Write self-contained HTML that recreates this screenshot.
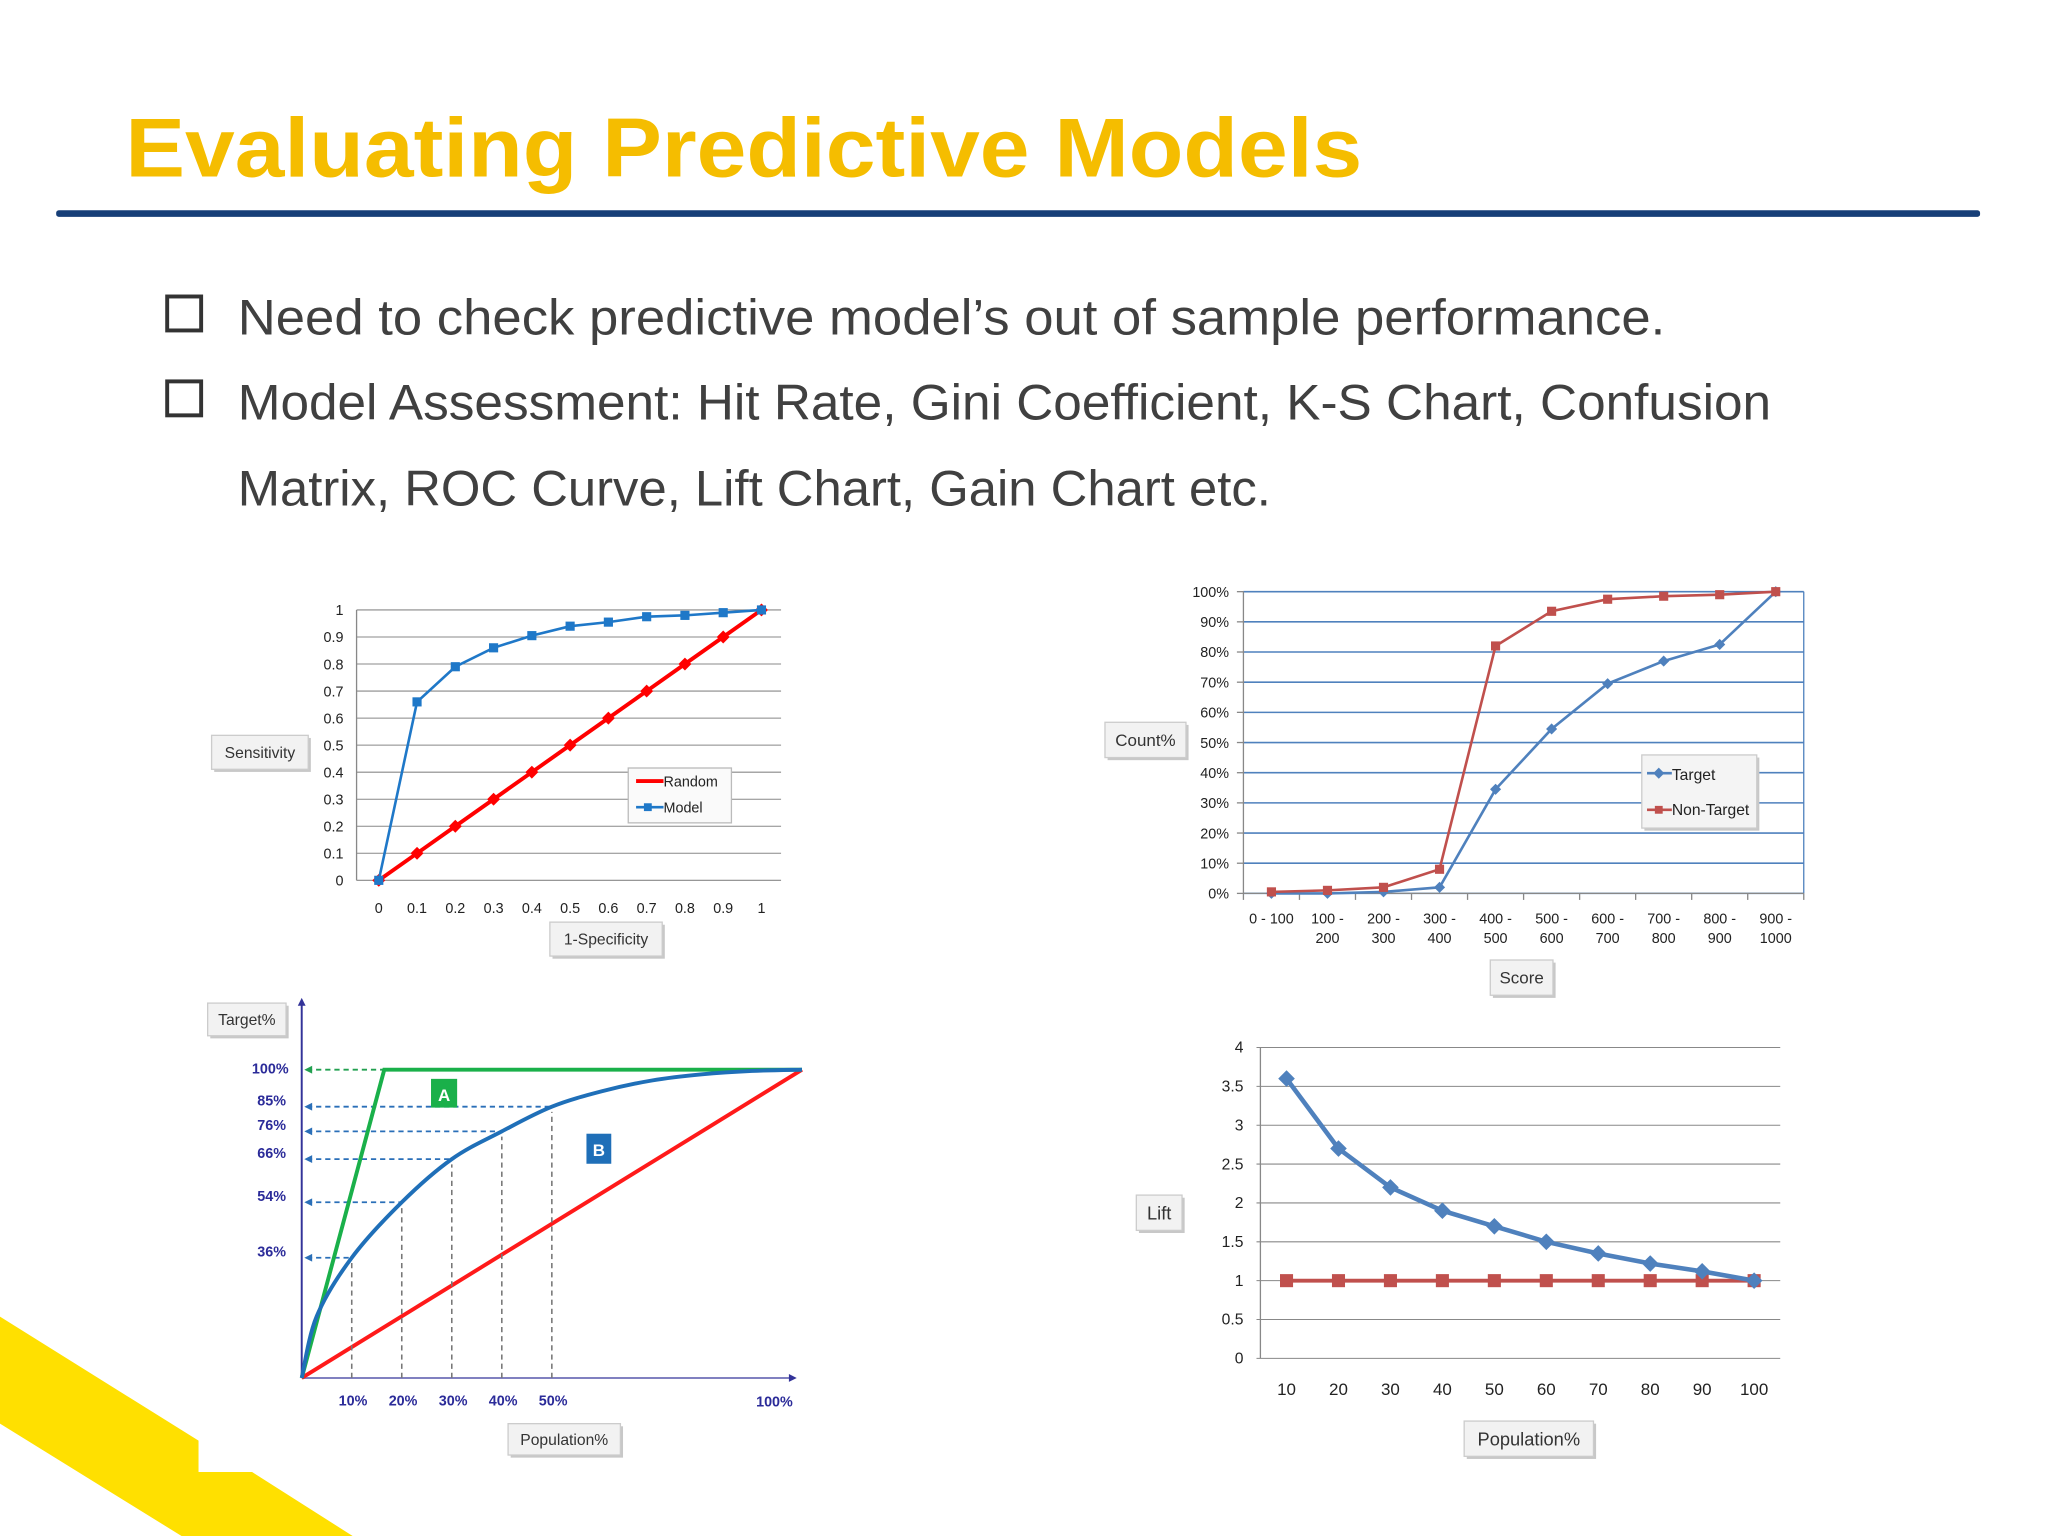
<!DOCTYPE html>
<html><head><meta charset="utf-8"><style>
html,body{margin:0;padding:0;background:#fff;}
svg{display:block;font-family:"Liberation Sans",sans-serif;}
</style></head><body>
<svg id="s" width="2048" height="1536" viewBox="0 0 1568 1176" xmlns="http://www.w3.org/2000/svg">
<rect width="1568" height="1176" fill="#fff"/>
<polygon points="0,1008 152,1103 152,1127 193,1127 270,1176 139,1176 0,1090" fill="#ffe000"/>
<text x="96" y="135" font-size="64" font-weight="bold" fill="#f5bd00" textLength="947" lengthAdjust="spacingAndGlyphs">Evaluating Predictive Models</text>
<rect x="43" y="161" width="1473" height="5" rx="2" fill="#173f78"/>
<g font-size="38" fill="#404040">
<rect x="128" y="227" width="26" height="26" fill="none" stroke="#333" stroke-width="3"/>
<text x="182" y="256" textLength="1093" lengthAdjust="spacingAndGlyphs">Need to check predictive model’s out of sample performance.</text>
<rect x="128" y="292" width="26" height="26" fill="none" stroke="#333" stroke-width="3"/>
<text x="182" y="321" textLength="1174" lengthAdjust="spacingAndGlyphs">Model Assessment: Hit Rate, Gini Coefficient, K-S Chart, Confusion</text>
<text x="182" y="387" textLength="791" lengthAdjust="spacingAndGlyphs">Matrix, ROC Curve, Lift Chart, Gain Chart etc.</text>
</g>
<g id="roc"></g>
<g id="ks"></g>
<g id="gain"></g>
<g id="lift"></g>
</svg>
<script>
// ROC data
const rocX=[0,0.1,0.2,0.3,0.4,0.5,0.6,0.7,0.8,0.9,1];
const rocModel=[0,0.66,0.79,0.86,0.905,0.94,0.955,0.975,0.98,0.99,1];
const rocRandom=[0,0.1,0.2,0.3,0.4,0.5,0.6,0.7,0.8,0.9,1];
const rocTicks=["0","0.1","0.2","0.3","0.4","0.5","0.6","0.7","0.8","0.9","1"];
// KS data
const ksCats=[["0 - 100",""],["100 -","200"],["200 -","300"],["300 -","400"],["400 -","500"],["500 -","600"],["600 -","700"],["700 -","800"],["800 -","900"],["900 -","1000"]];
const ksTarget=[0,0,0.5,2,34.5,54.5,69.5,77,82.5,100];
const ksNonTarget=[0.5,1,2,8,82,93.5,97.5,98.5,99,100];
const ksTicks=[0,10,20,30,40,50,60,70,80,90,100];
// Gain data (illustrative chart: plotted heights as drawn)
const gainX=[0,3,10,20,30,40,50,60,70,80,90,100];
const gainY=[0,20,39,57,71,80,88,93,96.5,98.5,99.6,100];
const gainMarked=[10,20,30,40,50];
const gainMarkedY=[39,57,71,80,88];
const gainMarkedLabels=["36%","54%","66%","76%","85%"];
const gainPerfectX=[0,16.5,100];
const gainPerfectY=[0,100,100];
// Lift data
const liftX=[10,20,30,40,50,60,70,80,90,100];
const liftModel=[3.6,2.7,2.2,1.9,1.7,1.5,1.35,1.22,1.12,1.0];
const liftBase=[1,1,1,1,1,1,1,1,1,1];
const liftTicks=["0","0.5","1","1.5","2","2.5","3","3.5","4"];

const NS="http://www.w3.org/2000/svg";
function mk(p,tag,a,txt){const e=document.createElementNS(NS,tag);for(const k in a)e.setAttribute(k,a[k]);if(txt!==undefined)e.textContent=txt;p.appendChild(e);return e;}
function box(p,x,y,w,h,t,fs,name){const g=mk(p,'g',{});


mk(g,'rect',{x:x+2,y:y+2,width:w,height:h,fill:'#c8c8c8'});mk(g,'rect',{x:x,y:y,width:w,height:h,fill:'#f2f2f2',stroke:'#ccc'});mk(g,'text',{x:x+w/2,y:y+h/2+fs*0.36,'font-size':fs,'text-anchor':'middle',fill:'#333'},t);}

// ROC
(function(){const g=document.getElementById('roc');
const X=v=>290+v*293, Y=v=>674-v*207;
for(let i=0;i<=10;i++){const v=i/10;mk(g,'line',{x1:273,x2:598,y1:Y(v),y2:Y(v),stroke:'#888','stroke-width':0.8});
const t=mk(g,'text',{x:263,y:Y(v)+4,'font-size':11,'text-anchor':'end',fill:'#222'},rocTicks[i]);


const u=mk(g,'text',{x:X(rocX[i]),y:699,'font-size':11,'text-anchor':'middle',fill:'#222'},rocTicks[i]);

}
mk(g,'line',{x1:273,x2:273,y1:Y(1),y2:Y(0),stroke:'#888'});
const rp=rocX.map((x,i)=>X(x)+','+Y(rocRandom[i])).join(' ');
const l1=mk(g,'polyline',{points:rp,fill:'none',stroke:'#ff0000','stroke-width':3});


rocX.forEach((x,i)=>{const d=mk(g,'rect',{x:X(x)-3.5,y:Y(rocRandom[i])-3.5,width:7,height:7,fill:'#ff0000',transform:`rotate(45 ${X(x)} ${Y(rocRandom[i])})`});

});
const mp=rocX.map((x,i)=>X(x)+','+Y(rocModel[i])).join(' ');
const l2=mk(g,'polyline',{points:mp,fill:'none',stroke:'#1f78c8','stroke-width':2});


rocX.forEach((x,i)=>{const d=mk(g,'rect',{x:X(x)-3.5,y:Y(rocModel[i])-3.5,width:7,height:7,fill:'#1f78c8'});

});
const lg=mk(g,'g',{});


mk(lg,'rect',{x:481,y:588,width:79,height:42,fill:'#fafafa',stroke:'#bbb'});
mk(lg,'line',{x1:487,x2:508,y1:598,y2:598,stroke:'#f00','stroke-width':3});
mk(lg,'text',{x:508,y:602,'font-size':11,fill:'#222'},'Random');
mk(lg,'line',{x1:487,x2:508,y1:618,y2:618,stroke:'#1f78c8','stroke-width':2});
mk(lg,'rect',{x:493,y:615,width:6,height:6,fill:'#1f78c8'});
mk(lg,'text',{x:508,y:622,'font-size':11,fill:'#222'},'Model');
box(g,162,563,74,26,'Sensitivity',12,'roc-y-axis-title');
box(g,421,706,86,26,'1-Specificity',12,'roc-x-axis-title');
})();

// KS
(function(){const g=document.getElementById('ks');
const x0=952,x1=1381,bw=(x1-x0)/10;const X=i=>x0+bw*(i+0.5), Y=v=>684-v*2.31;
ksTicks.forEach(v=>{mk(g,'line',{x1:x0,x2:x1,y1:Y(v),y2:Y(v),stroke:'#4f81bd','stroke-width':1.2});
const t=mk(g,'text',{x:941,y:Y(v)+4,'font-size':11,'text-anchor':'end',fill:'#222'},v+'%');


mk(g,'line',{x1:x0-5,x2:x0,y1:Y(v),y2:Y(v),stroke:'#888'});});
mk(g,'line',{x1:x0,x2:x0,y1:Y(100),y2:Y(0),stroke:'#888'});mk(g,'line',{x1:x1,x2:x1,y1:Y(100),y2:Y(0),stroke:'#4f81bd'});
mk(g,'line',{x1:x0,x2:x1,y1:Y(0),y2:Y(0),stroke:'#888'});
for(let i=0;i<=10;i++)mk(g,'line',{x1:x0+bw*i,x2:x0+bw*i,y1:Y(0),y2:Y(0)+5,stroke:'#888'});
ksCats.forEach((c,i)=>{const t=mk(g,'text',{x:X(i),y:707,'font-size':11,'text-anchor':'middle',fill:'#222'},c[0]);


mk(g,'text',{x:X(i),y:722,'font-size':11,'text-anchor':'middle',fill:'#222'},c[1]);});
const l1=mk(g,'polyline',{points:ksTarget.map((v,i)=>X(i)+','+Y(v)).join(' '),fill:'none',stroke:'#4f81bd','stroke-width':2});


ksTarget.forEach((v,i)=>{const d=mk(g,'rect',{x:X(i)-3,y:Y(v)-3,width:6,height:6,fill:'#4f81bd',transform:`rotate(45 ${X(i)} ${Y(v)})`});

});
const l2=mk(g,'polyline',{points:ksNonTarget.map((v,i)=>X(i)+','+Y(v)).join(' '),fill:'none',stroke:'#c0504d','stroke-width':2});


ksNonTarget.forEach((v,i)=>{const d=mk(g,'rect',{x:X(i)-3.5,y:Y(v)-3.5,width:7,height:7,fill:'#c0504d'});

});
const lg=mk(g,'g',{});


mk(lg,'rect',{x:1259,y:580,width:88,height:56,fill:'#c8c8c8'});
mk(lg,'rect',{x:1257,y:578,width:88,height:56,fill:'#f4f4f4',stroke:'#ccc'});
mk(lg,'line',{x1:1261,x2:1280,y1:592,y2:592,stroke:'#4f81bd','stroke-width':2});
mk(lg,'rect',{x:1267,y:589,width:6,height:6,fill:'#4f81bd',transform:'rotate(45 1270 592)'});
mk(lg,'text',{x:1280,y:597,'font-size':12,fill:'#222'},'Target');
mk(lg,'line',{x1:1261,x2:1280,y1:620,y2:620,stroke:'#c0504d','stroke-width':2});
mk(lg,'rect',{x:1267,y:617,width:6,height:6,fill:'#c0504d'});
mk(lg,'text',{x:1280,y:624,'font-size':12,fill:'#222'},'Non-Target');
box(g,846,553,62,27,'Count%',13,'ks-y-axis-title');
box(g,1141,735,48,27,'Score',13,'ks-x-axis-title');
})();

// Gain
(function(){const g=document.getElementById('gain');
const X=v=>231+v*3.83, Y=v=>1055-v*2.36;
mk(g,'line',{x1:231,x2:231,y1:1055,y2:768,stroke:'#333399','stroke-width':1.5});
mk(g,'polygon',{points:'228,770 234,770 231,764',fill:'#333399'});
mk(g,'line',{x1:231,x2:606,y1:1055,y2:1055,stroke:'#8080c0','stroke-width':1.5});
mk(g,'polygon',{points:'604,1052 604,1058 610,1055',fill:'#333399'});
const rl=mk(g,'line',{x1:X(0),y1:Y(0),x2:X(100),y2:Y(100),stroke:'#ff1a1a','stroke-width':3});


gainMarked.forEach((m,i)=>{const yv=gainMarkedY[i];
mk(g,'line',{x1:X(m),x2:X(m),y1:Y(0),y2:Y(yv)+4,stroke:'#777','stroke-width':1.2,'stroke-dasharray':'4,3'});
mk(g,'line',{x1:235,x2:X(m),y1:Y(yv),y2:Y(yv),stroke:'#2a6fb8','stroke-width':1.4,'stroke-dasharray':'4,3'});
mk(g,'polygon',{points:`233,${Y(yv)} 239,${Y(yv)-3} 239,${Y(yv)+3}`,fill:'#2a6fb8'});
const t=mk(g,'text',{x:219,y:Y(yv)-1,'font-size':11,'font-weight':'bold','text-anchor':'end',fill:'#2b2b99'},gainMarkedLabels[i]);


const u=mk(g,'text',{x:X(m)+1,y:1076,'font-size':11,'font-weight':'bold','text-anchor':'middle',fill:'#2b2b99'},m+'%');

});
mk(g,'line',{x1:235,x2:X(gainPerfectX[1]),y1:Y(100),y2:Y(100),stroke:'#22a050','stroke-width':1.4,'stroke-dasharray':'4,3'});
mk(g,'polygon',{points:`233,${Y(100)} 239,${Y(100)-3} 239,${Y(100)+3}`,fill:'#22a050'});
mk(g,'text',{x:221,y:Y(100)+3,'font-size':11,'font-weight':'bold','text-anchor':'end',fill:'#2b2b99'},'100%');
mk(g,'text',{x:607,y:1077,'font-size':11,'font-weight':'bold','text-anchor':'end',fill:'#2b2b99'},'100%');
const pl=mk(g,'polyline',{points:gainPerfectX.map((x,i)=>X(x)+','+Y(gainPerfectY[i])).join(' '),fill:'none',stroke:'#1ab04a','stroke-width':3});


const P=gainX.map((x,i)=>[X(x),Y(gainY[i])]);let d='M'+P[0][0]+','+P[0][1];
for(let i=0;i<P.length-1;i++){const p0=P[Math.max(0,i-1)],p1=P[i],p2=P[i+1],p3=P[Math.min(P.length-1,i+2)];
d+=` C${p1[0]+(p2[0]-p0[0])/6},${p1[1]+(p2[1]-p0[1])/6} ${p2[0]-(p3[0]-p1[0])/6},${p2[1]-(p3[1]-p1[1])/6} ${p2[0]},${p2[1]}`;}
const cv=mk(g,'path',{d:d,fill:'none',stroke:'#1f6fb8','stroke-width':3});


mk(g,'rect',{x:330,y:826,width:20,height:22,fill:'#1ab04a'});mk(g,'text',{x:340,y:843,'font-size':13,'font-weight':'bold','text-anchor':'middle',fill:'#fff'},'A');
mk(g,'rect',{x:449,y:868,width:19,height:23,fill:'#1f6fb8'});mk(g,'text',{x:458.5,y:885,'font-size':13,'font-weight':'bold','text-anchor':'middle',fill:'#fff'},'B');
box(g,159,768,60,25,'Target%',12,'gain-y-axis-title');
box(g,389,1090,86,24,'Population%',12,'gain-x-axis-title');
})();

// Lift
(function(){const g=document.getElementById('lift');
const X=v=>985+(v-10)*(1343-985)/90, Y=v=>1040-v*59.5;
liftTicks.forEach((t,i)=>{const v=i*0.5;mk(g,'line',{x1:962,x2:1363,y1:Y(v),y2:Y(v),stroke:'#888','stroke-width':0.8});
const e=mk(g,'text',{x:952,y:Y(v)+4,'font-size':12,'text-anchor':'end',fill:'#222'},t);

});
mk(g,'line',{x1:965,x2:965,y1:Y(4),y2:Y(0),stroke:'#888'});
liftX.forEach(x=>{const e=mk(g,'text',{x:X(x),y:1068,'font-size':13,'text-anchor':'middle',fill:'#222'},x);

});
const b=mk(g,'polyline',{points:liftX.map((x,i)=>X(x)+','+Y(liftBase[i])).join(' '),fill:'none',stroke:'#c0504d','stroke-width':3});


liftX.forEach((x,i)=>{const r=mk(g,'rect',{x:X(x)-5,y:Y(liftBase[i])-5,width:10,height:10,fill:'#c0504d'});

});
const m=mk(g,'polyline',{points:liftX.map((x,i)=>X(x)+','+Y(liftModel[i])).join(' '),fill:'none',stroke:'#4f81bd','stroke-width':3.5});


liftX.forEach((x,i)=>{const r=mk(g,'rect',{x:X(x)-4.5,y:Y(liftModel[i])-4.5,width:9,height:9,fill:'#4f81bd',transform:`rotate(45 ${X(x)} ${Y(liftModel[i])})`});

});
box(g,870,915,35,27,'Lift',14,'lift-y-axis-title');
box(g,1121,1088,99,27,'Population%',14,'lift-x-axis-title');
})();
</script>
</body></html>
